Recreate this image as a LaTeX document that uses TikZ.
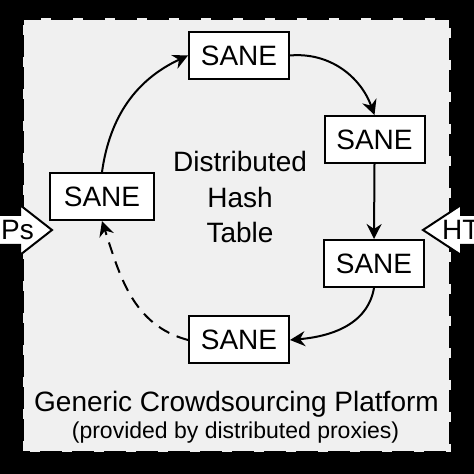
\documentclass[tikz,border=0pt]{standalone}
\usepackage{fontspec}
\setmainfont{Liberation Sans}
\usetikzlibrary{arrows.meta}
\definecolor{platgray}{HTML}{F0F0F0}
\tikzset{
  sane/.style={draw=black, line width=2pt, fill=white, minimum width=100pt, minimum height=47pt, inner sep=0pt, font=\fontsize{28}{30}\selectfont},
  conn/.style={line width=2pt, -{Stealth[length=15pt,width=15pt,inset=5pt]}},
  big/.style={font=\fontsize{28}{30}\selectfont, inner sep=0pt},
  small/.style={font=\fontsize{23}{25}\selectfont, inner sep=0pt},
  portarrow/.style={draw=black, line width=2pt, fill=white, line join=miter}
}
\begin{document}
\begin{tikzpicture}[x=1pt,y=1pt]
\useasboundingbox (0,0) rectangle (474,474);
\fill[black] (0,0) rectangle (474,474);
% platform
\filldraw[fill=platgray, draw=platgray, line width=3pt, dash pattern=on 10pt off 22pt] (24,23) rectangle (449,454);
% port arrows
\draw[portarrow] (-20,229) -- (20,229) -- (20,219) -- (52,244) -- (20,269) -- (20,259) -- (-20,259) -- cycle;
\node[big, anchor=base east] (ps) at (34,234) {Ps};
\draw[portarrow] (494,229) -- (461,229) -- (461,219) -- (423,244) -- (461,269) -- (461,259) -- (494,259) -- cycle;
\node[big, anchor=base west] (ht) at (442,234) {HT};
% nodes
\node[sane] (top) at (239,418.5) {SANE};
\node[sane] (rt) at (374.5,334.5) {SANE};
\node[sane] (rb) at (374,210.5) {SANE};
\node[sane] (bot) at (239,134) {SANE};
\node[sane, minimum width=104pt] (left) at (102,277.5) {SANE};
% centre text
\node[big, anchor=base] (dist) at (240,302) {Distributed};
\node[big, anchor=base] (hash) at (240,266) {Hash};
\node[big, anchor=base] (table) at (240,231) {Table};
% platform label
\node[big, anchor=base] (gen) at (236.5,62) {Generic Crowdsourcing Platform};
\node[small, anchor=base] (prov) at (235.5,35) {(provided by distributed proxies)};
% connectors
\draw[conn] (top.east) to[out=5, in=110] (rt.north);
\draw[conn] (rt.south) -- (rb.north);
\draw[conn] (rb.south) to[out=-100, in=5] (bot.east);
\draw[conn, dash pattern=on 12pt off 8pt] (bot.west) to[out=165, in=-72] (left.south);
\draw[conn] (left.north) to[out=82, in=-155] (top.west);
\end{tikzpicture}
\end{document}
